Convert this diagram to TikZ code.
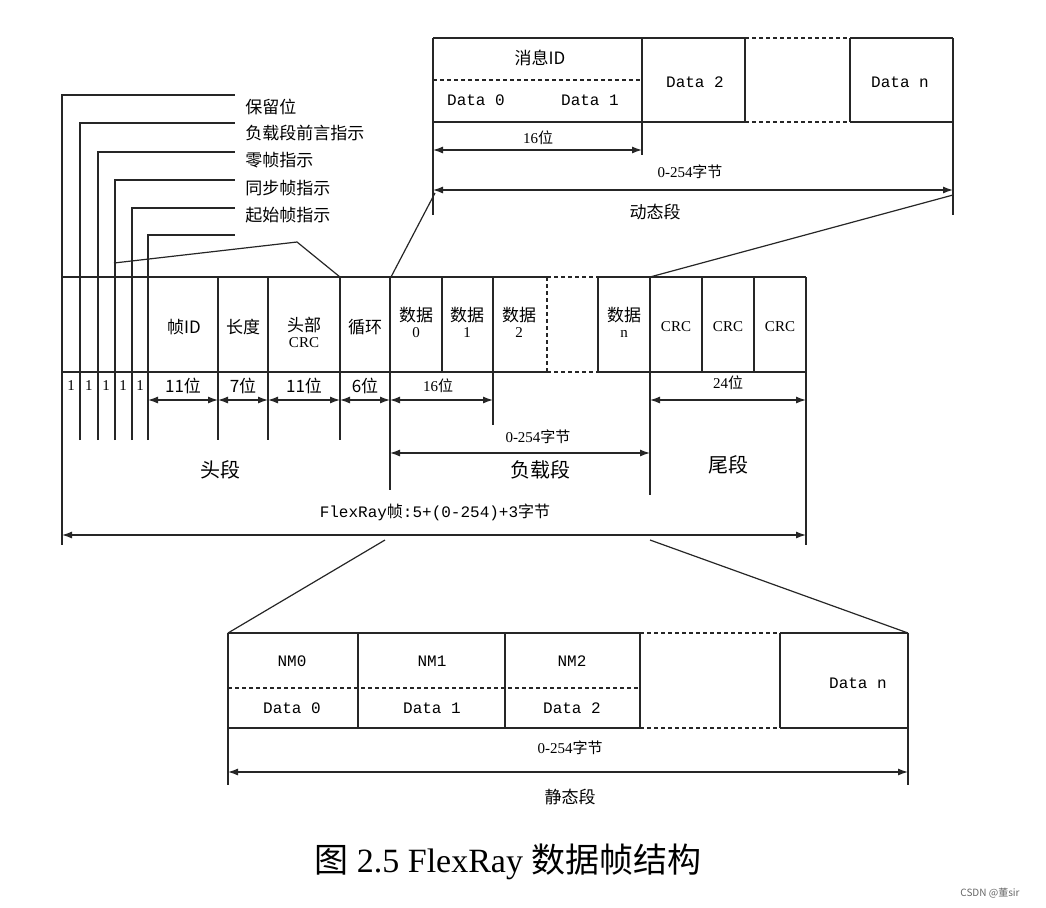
\documentclass[tikz,border=0pt]{standalone}
\usepackage{fontspec}
\setmainfont{Liberation Serif}
\newfontfamily\cjk{Noto Sans CJK SC}
\newfontfamily\mono{Liberation Mono}
\usetikzlibrary{arrows.meta}
\begin{document}
\begin{tikzpicture}[x=0.5pt,y=-0.5pt,
  ln/.style={line width=0.6pt,draw=black!85},
  dsh/.style={ln,dash pattern=on 2pt off 1.5pt},
  dim/.style={ln,{Latex[length=5pt,width=3.5pt]}-{Latex[length=5pt,width=3.5pt]}},
  cn/.style={font=\cjk\fontsize{8.5}{9}\selectfont,inner sep=0pt},
  mn/.style={font=\mono\fontsize{8}{9}\selectfont,inner sep=0pt},
  sm/.style={font=\fontsize{7.5}{8}\selectfont,inner sep=0pt}]
\useasboundingbox (0,0) rectangle (1046,907);
% ---------- dynamic segment ----------
\draw[ln] (433,38) -- (642,38) (433,122) -- (642,122);
\draw[ln] (642,38) -- (745,38) (642,122) -- (745,122);
\draw[dsh] (745,38) -- (850,38) (745,122) -- (850,122);
\draw[ln] (850,38) -- (953,38) (850,122) -- (953,122);
\draw[ln] (433,38) -- (433,215) (953,38) -- (953,215) (642,38) -- (642,155);
\draw[ln] (745,38) -- (745,122) (850,38) -- (850,122);
\draw[dsh] (433,80) -- (642,80);
\node[cn] (mid) at (540,58) {消息ID};
\node[mn] (d0) at (476,100) {Data 0};
\node[mn] (d1) at (590,100) {Data 1};
\node[mn] (d2) at (695,82) {Data 2};
\node[mn] (dn) at (900,82) {Data n};
\coordinate (a1) at (433,150); \coordinate (a2) at (642,150);
\draw[dim] (a1) -- (a2);
\node[sm] (l16a) at (538,138) {16\cjk 位};
\coordinate (b1) at (433,190); \coordinate (b2) at (953,190);
\draw[dim] (b1) -- (b2);
\node[sm] (lb) at (690,172) {0-254\cjk 字节};
\node[cn] (dyn) at (655,212) {动态段};
\draw[ln] (435,193) -- (391,277);
\draw[ln] (953,195) -- (650,277);
% ---------- indicator lines ----------
\foreach \x/\y in {62/95,80/123,98/152,115/180,132/208,148/235}
  \draw[ln] (\x,440) -- (\x,\y) -- (235,\y);
\node[cn,anchor=west] (t1) at (245,107) {保留位};
\node[cn,anchor=west] (t2) at (245,133) {负载段前言指示};
\node[cn,anchor=west] (t3) at (245,160) {零帧指示};
\node[cn,anchor=west] (t4) at (245,188) {同步帧指示};
\node[cn,anchor=west] (t5) at (245,215) {起始帧指示};
\draw[ln] (114,263) -- (297,242) -- (340,277);
% ---------- main frame ----------
\draw[ln] (62,277) -- (547,277) (598,277) -- (806,277);
\draw[dsh] (547,277) -- (598,277) (547,372) -- (598,372);
\draw[ln] (62,372) -- (547,372) (598,372) -- (806,372);
\draw[ln] (62,277) -- (62,545) (806,277) -- (806,545);
\foreach \x in {80,98,115,132,148} \draw[ln] (\x,277) -- (\x,440);
\foreach \x in {218,268,340} \draw[ln] (\x,277) -- (\x,440);
\draw[ln] (390,277) -- (390,490) (442,277) -- (442,372) (493,277) -- (493,425);
\draw[dsh] (547,277) -- (547,372);
\draw[ln] (598,277) -- (598,372) (650,277) -- (650,495) (702,277) -- (702,372) (754,277) -- (754,372);
\node[cn] (fid) at (184,327) {帧ID};
\node[cn] (len) at (243,327) {长度};
\node[cn,align=center] (hcrc) at (304,332) {头部\\[-1pt]{\fontsize{7.5}{8}\rmfamily CRC}};
\node[cn] (cyc) at (365,327) {循环};
\foreach \x/\n in {416/0,467/1,519/2,624/n}
  \node[cn,align=center] at (\x,322) {数据\\[-1pt]{\fontsize{7.5}{8}\rmfamily \n}};
\foreach \x in {676,728,780} \node[sm] at (\x,327) {CRC};
\foreach \x in {71,89,106,123,140} \node[sm] at (\x,386) {1};
\foreach \a/\b/\t in {148/218/11,218/268/7,268/340/11,340/390/6}
  \node[cn] at ({(\a+\b)/2},386) {\t 位};
\coordinate (p1) at (148,400); \coordinate (p2) at (218,400); \coordinate (p3) at (268,400);
\coordinate (p4) at (340,400); \coordinate (p5) at (390,400); \coordinate (p6) at (493,400);
\draw[dim] (p1) -- (p2); \draw[dim] (p2) -- (p3); \draw[dim] (p3) -- (p4);
\draw[dim] (p4) -- (p5); \draw[dim] (p5) -- (p6);
\node[sm] (l16) at (438,386) {16\cjk 位};
\coordinate (c1) at (650,400); \coordinate (c2) at (806,400);
\draw[dim] (c1) -- (c2);
\node[sm] (l24) at (728,383) {24\cjk 位};
\coordinate (q1) at (390,453); \coordinate (q2) at (650,453);
\draw[dim] (q1) -- (q2);
\node[sm] (l254) at (538,437) {0-254\cjk 字节};
\node[cn,font=\cjk\fontsize{10}{11}\selectfont] (pay) at (540,470) {负载段};
\node[cn,font=\cjk\fontsize{10}{11}\selectfont] (head) at (220,470) {头段};
\node[cn,font=\cjk\fontsize{10}{11}\selectfont] (tail) at (728,465) {尾段};
\node[mn] (flx) at (435,512) {FlexRay{\cjk 帧}:5+(0-254)+3{\cjk 字节}};
\coordinate (f1) at (62,535); \coordinate (f2) at (806,535);
\draw[dim] (f1) -- (f2);
\draw[ln] (385,540) -- (228,633);
\draw[ln] (650,540) -- (908,633);
% ---------- static segment ----------
\draw[ln] (228,633) -- (640,633) (228,728) -- (640,728);
\draw[dsh] (640,633) -- (780,633) (640,728) -- (780,728);
\draw[ln] (780,633) -- (908,633) (780,728) -- (908,728);
\draw[ln] (228,633) -- (228,785) (908,633) -- (908,785);
\foreach \x in {358,505,640,780} \draw[ln] (\x,633) -- (\x,728);
\draw[dsh] (228,688) -- (640,688);
\node[mn] (n0) at (292,661) {NM0};
\node[mn] (n1) at (432,661) {NM1};
\node[mn] (n2) at (572,661) {NM2};
\node[mn] (e0) at (292,708) {Data 0};
\node[mn] (e1) at (432,708) {Data 1};
\node[mn] (e2) at (572,708) {Data 2};
\node[mn] (en) at (858,683) {Data n};
\coordinate (s1) at (228,772); \coordinate (s2) at (908,772);
\draw[dim] (s1) -- (s2);
\node[sm] (ls) at (570,748) {0-254\cjk 字节};
\node[cn] (stat) at (570,797) {静态段};
\node[font=\fontsize{17}{19}\selectfont,inner sep=0pt] (cap) at (508,862) {{\cjk 图} 2.5 FlexRay {\cjk 数据帧结构}};
\node[font=\cjk\fontsize{5}{6}\selectfont,text=black!60,inner sep=0pt] (wm) at (990,893) {CSDN @董sir};
\end{tikzpicture}
\end{document}
